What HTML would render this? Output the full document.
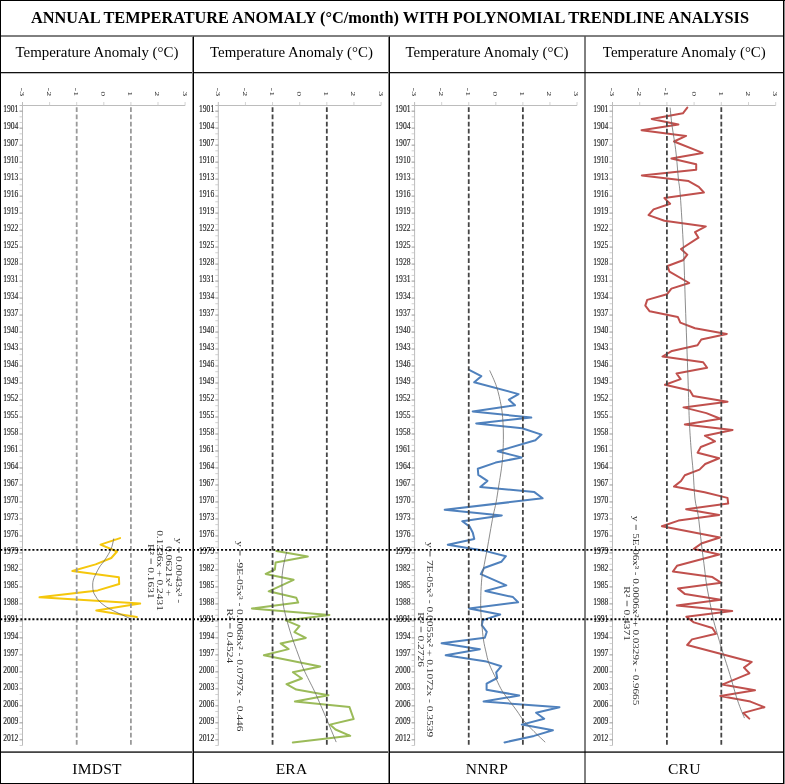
<!DOCTYPE html><html><head><meta charset="utf-8"><title>Annual Temperature Anomaly</title><style>html,body{margin:0;padding:0;background:#fff}svg{display:block}</style></head><body>
<svg width="785" height="784" viewBox="0 0 785 784">
<rect width="785" height="784" fill="#fff"/>
<g font-family="'Liberation Serif', serif"><path d="M19.50 105.5 H185.10 M22.5 102.0 V745.5" stroke="#bcbcbc" stroke-width="1" fill="none"/><path d="M49.60 102.0 V105.5M76.70 102.0 V105.5M103.80 102.0 V105.5M130.90 102.0 V105.5M158.00 102.0 V105.5M185.10 102.0 V105.5" stroke="#c8c8c8" stroke-width="0.8" fill="none"/><path d="M19.5 116.83 H22.5M19.5 122.49 H22.5M19.5 133.82 H22.5M19.5 139.48 H22.5M19.5 150.81 H22.5M19.5 156.47 H22.5M19.5 167.80 H22.5M19.5 173.46 H22.5M19.5 184.79 H22.5M19.5 190.46 H22.5M19.5 201.78 H22.5M19.5 207.45 H22.5M19.5 218.77 H22.5M19.5 224.44 H22.5M19.5 235.77 H22.5M19.5 241.43 H22.5M19.5 252.76 H22.5M19.5 258.42 H22.5M19.5 269.75 H22.5M19.5 275.41 H22.5M19.5 286.74 H22.5M19.5 292.40 H22.5M19.5 303.73 H22.5M19.5 309.39 H22.5M19.5 320.72 H22.5M19.5 326.38 H22.5M19.5 337.71 H22.5M19.5 343.38 H22.5M19.5 354.70 H22.5M19.5 360.37 H22.5M19.5 371.69 H22.5M19.5 377.36 H22.5M19.5 388.69 H22.5M19.5 394.35 H22.5M19.5 405.68 H22.5M19.5 411.34 H22.5M19.5 422.67 H22.5M19.5 428.33 H22.5M19.5 439.66 H22.5M19.5 445.32 H22.5M19.5 456.65 H22.5M19.5 462.31 H22.5M19.5 473.64 H22.5M19.5 479.31 H22.5M19.5 490.63 H22.5M19.5 496.30 H22.5M19.5 507.62 H22.5M19.5 513.29 H22.5M19.5 524.62 H22.5M19.5 530.28 H22.5M19.5 541.61 H22.5M19.5 547.27 H22.5M19.5 558.60 H22.5M19.5 564.26 H22.5M19.5 575.59 H22.5M19.5 581.25 H22.5M19.5 592.58 H22.5M19.5 598.24 H22.5M19.5 609.57 H22.5M19.5 615.23 H22.5M19.5 626.56 H22.5M19.5 632.23 H22.5M19.5 643.55 H22.5M19.5 649.22 H22.5M19.5 660.54 H22.5M19.5 666.21 H22.5M19.5 677.54 H22.5M19.5 683.20 H22.5M19.5 694.53 H22.5M19.5 700.19 H22.5M19.5 711.52 H22.5M19.5 717.18 H22.5M19.5 728.51 H22.5M19.5 734.17 H22.5M19.5 745.50 H22.5" stroke="#c4c4c4" stroke-width="0.8" fill="none"/><path d="M19.5 111.16 H22.5M19.5 128.15 H22.5M19.5 145.15 H22.5M19.5 162.14 H22.5M19.5 179.13 H22.5M19.5 196.12 H22.5M19.5 213.11 H22.5M19.5 230.10 H22.5M19.5 247.09 H22.5M19.5 264.08 H22.5M19.5 281.08 H22.5M19.5 298.07 H22.5M19.5 315.06 H22.5M19.5 332.05 H22.5M19.5 349.04 H22.5M19.5 366.03 H22.5M19.5 383.02 H22.5M19.5 400.01 H22.5M19.5 417.00 H22.5M19.5 434.00 H22.5M19.5 450.99 H22.5M19.5 467.98 H22.5M19.5 484.97 H22.5M19.5 501.96 H22.5M19.5 518.95 H22.5M19.5 535.94 H22.5M19.5 552.93 H22.5M19.5 569.92 H22.5M19.5 586.92 H22.5M19.5 603.91 H22.5M19.5 620.90 H22.5M19.5 637.89 H22.5M19.5 654.88 H22.5M19.5 671.87 H22.5M19.5 688.86 H22.5M19.5 705.85 H22.5M19.5 722.85 H22.5M19.5 739.84 H22.5" stroke="#8a8a8a" stroke-width="0.9" fill="none"/><text transform="translate(19.95 96.2) rotate(90) scale(1 0.68)" text-anchor="end" font-size="10" fill="#111">-3</text><text transform="translate(47.05 96.2) rotate(90) scale(1 0.68)" text-anchor="end" font-size="10" fill="#111">-2</text><text transform="translate(74.15 96.2) rotate(90) scale(1 0.68)" text-anchor="end" font-size="10" fill="#111">-1</text><text transform="translate(101.25 96.2) rotate(90) scale(1 0.68)" text-anchor="end" font-size="10" fill="#111">0</text><text transform="translate(128.35 96.2) rotate(90) scale(1 0.68)" text-anchor="end" font-size="10" fill="#111">1</text><text transform="translate(155.45 96.2) rotate(90) scale(1 0.68)" text-anchor="end" font-size="10" fill="#111">2</text><text transform="translate(182.55 96.2) rotate(90) scale(1 0.68)" text-anchor="end" font-size="10" fill="#111">3</text><text transform="translate(18.40 112.03) scale(0.76 1)" text-anchor="end" font-size="10" fill="#222" stroke="#222" stroke-width="0.15">1901</text><text transform="translate(18.40 129.02) scale(0.76 1)" text-anchor="end" font-size="10" fill="#222" stroke="#222" stroke-width="0.15">1904</text><text transform="translate(18.40 146.01) scale(0.76 1)" text-anchor="end" font-size="10" fill="#222" stroke="#222" stroke-width="0.15">1907</text><text transform="translate(18.40 163.01) scale(0.76 1)" text-anchor="end" font-size="10" fill="#222" stroke="#222" stroke-width="0.15">1910</text><text transform="translate(18.40 180.00) scale(0.76 1)" text-anchor="end" font-size="10" fill="#222" stroke="#222" stroke-width="0.15">1913</text><text transform="translate(18.40 196.99) scale(0.76 1)" text-anchor="end" font-size="10" fill="#222" stroke="#222" stroke-width="0.15">1916</text><text transform="translate(18.40 213.98) scale(0.76 1)" text-anchor="end" font-size="10" fill="#222" stroke="#222" stroke-width="0.15">1919</text><text transform="translate(18.40 230.97) scale(0.76 1)" text-anchor="end" font-size="10" fill="#222" stroke="#222" stroke-width="0.15">1922</text><text transform="translate(18.40 247.96) scale(0.76 1)" text-anchor="end" font-size="10" fill="#222" stroke="#222" stroke-width="0.15">1925</text><text transform="translate(18.40 264.95) scale(0.76 1)" text-anchor="end" font-size="10" fill="#222" stroke="#222" stroke-width="0.15">1928</text><text transform="translate(18.40 281.94) scale(0.76 1)" text-anchor="end" font-size="10" fill="#222" stroke="#222" stroke-width="0.15">1931</text><text transform="translate(18.40 298.93) scale(0.76 1)" text-anchor="end" font-size="10" fill="#222" stroke="#222" stroke-width="0.15">1934</text><text transform="translate(18.40 315.93) scale(0.76 1)" text-anchor="end" font-size="10" fill="#222" stroke="#222" stroke-width="0.15">1937</text><text transform="translate(18.40 332.92) scale(0.76 1)" text-anchor="end" font-size="10" fill="#222" stroke="#222" stroke-width="0.15">1940</text><text transform="translate(18.40 349.91) scale(0.76 1)" text-anchor="end" font-size="10" fill="#222" stroke="#222" stroke-width="0.15">1943</text><text transform="translate(18.40 366.90) scale(0.76 1)" text-anchor="end" font-size="10" fill="#222" stroke="#222" stroke-width="0.15">1946</text><text transform="translate(18.40 383.89) scale(0.76 1)" text-anchor="end" font-size="10" fill="#222" stroke="#222" stroke-width="0.15">1949</text><text transform="translate(18.40 400.88) scale(0.76 1)" text-anchor="end" font-size="10" fill="#222" stroke="#222" stroke-width="0.15">1952</text><text transform="translate(18.40 417.87) scale(0.76 1)" text-anchor="end" font-size="10" fill="#222" stroke="#222" stroke-width="0.15">1955</text><text transform="translate(18.40 434.86) scale(0.76 1)" text-anchor="end" font-size="10" fill="#222" stroke="#222" stroke-width="0.15">1958</text><text transform="translate(18.40 451.85) scale(0.76 1)" text-anchor="end" font-size="10" fill="#222" stroke="#222" stroke-width="0.15">1961</text><text transform="translate(18.40 468.85) scale(0.76 1)" text-anchor="end" font-size="10" fill="#222" stroke="#222" stroke-width="0.15">1964</text><text transform="translate(18.40 485.84) scale(0.76 1)" text-anchor="end" font-size="10" fill="#222" stroke="#222" stroke-width="0.15">1967</text><text transform="translate(18.40 502.83) scale(0.76 1)" text-anchor="end" font-size="10" fill="#222" stroke="#222" stroke-width="0.15">1970</text><text transform="translate(18.40 519.82) scale(0.76 1)" text-anchor="end" font-size="10" fill="#222" stroke="#222" stroke-width="0.15">1973</text><text transform="translate(18.40 536.81) scale(0.76 1)" text-anchor="end" font-size="10" fill="#222" stroke="#222" stroke-width="0.15">1976</text><text transform="translate(18.40 553.80) scale(0.76 1)" text-anchor="end" font-size="10" fill="#222" stroke="#222" stroke-width="0.15">1979</text><text transform="translate(18.40 570.79) scale(0.76 1)" text-anchor="end" font-size="10" fill="#222" stroke="#222" stroke-width="0.15">1982</text><text transform="translate(18.40 587.78) scale(0.76 1)" text-anchor="end" font-size="10" fill="#222" stroke="#222" stroke-width="0.15">1985</text><text transform="translate(18.40 604.78) scale(0.76 1)" text-anchor="end" font-size="10" fill="#222" stroke="#222" stroke-width="0.15">1988</text><text transform="translate(18.40 621.77) scale(0.76 1)" text-anchor="end" font-size="10" fill="#222" stroke="#222" stroke-width="0.15">1991</text><text transform="translate(18.40 638.76) scale(0.76 1)" text-anchor="end" font-size="10" fill="#222" stroke="#222" stroke-width="0.15">1994</text><text transform="translate(18.40 655.75) scale(0.76 1)" text-anchor="end" font-size="10" fill="#222" stroke="#222" stroke-width="0.15">1997</text><text transform="translate(18.40 672.74) scale(0.76 1)" text-anchor="end" font-size="10" fill="#222" stroke="#222" stroke-width="0.15">2000</text><text transform="translate(18.40 689.73) scale(0.76 1)" text-anchor="end" font-size="10" fill="#222" stroke="#222" stroke-width="0.15">2003</text><text transform="translate(18.40 706.72) scale(0.76 1)" text-anchor="end" font-size="10" fill="#222" stroke="#222" stroke-width="0.15">2006</text><text transform="translate(18.40 723.71) scale(0.76 1)" text-anchor="end" font-size="10" fill="#222" stroke="#222" stroke-width="0.15">2009</text><text transform="translate(18.40 740.70) scale(0.76 1)" text-anchor="end" font-size="10" fill="#222" stroke="#222" stroke-width="0.15">2012</text></g>
<g font-family="'Liberation Serif', serif"><path d="M215.30 105.5 H381.08 M218.3 102.0 V745.5" stroke="#bcbcbc" stroke-width="1" fill="none"/><path d="M245.43 102.0 V105.5M272.56 102.0 V105.5M299.69 102.0 V105.5M326.82 102.0 V105.5M353.95 102.0 V105.5M381.08 102.0 V105.5" stroke="#c8c8c8" stroke-width="0.8" fill="none"/><path d="M215.3 116.83 H218.3M215.3 122.49 H218.3M215.3 133.82 H218.3M215.3 139.48 H218.3M215.3 150.81 H218.3M215.3 156.47 H218.3M215.3 167.80 H218.3M215.3 173.46 H218.3M215.3 184.79 H218.3M215.3 190.46 H218.3M215.3 201.78 H218.3M215.3 207.45 H218.3M215.3 218.77 H218.3M215.3 224.44 H218.3M215.3 235.77 H218.3M215.3 241.43 H218.3M215.3 252.76 H218.3M215.3 258.42 H218.3M215.3 269.75 H218.3M215.3 275.41 H218.3M215.3 286.74 H218.3M215.3 292.40 H218.3M215.3 303.73 H218.3M215.3 309.39 H218.3M215.3 320.72 H218.3M215.3 326.38 H218.3M215.3 337.71 H218.3M215.3 343.38 H218.3M215.3 354.70 H218.3M215.3 360.37 H218.3M215.3 371.69 H218.3M215.3 377.36 H218.3M215.3 388.69 H218.3M215.3 394.35 H218.3M215.3 405.68 H218.3M215.3 411.34 H218.3M215.3 422.67 H218.3M215.3 428.33 H218.3M215.3 439.66 H218.3M215.3 445.32 H218.3M215.3 456.65 H218.3M215.3 462.31 H218.3M215.3 473.64 H218.3M215.3 479.31 H218.3M215.3 490.63 H218.3M215.3 496.30 H218.3M215.3 507.62 H218.3M215.3 513.29 H218.3M215.3 524.62 H218.3M215.3 530.28 H218.3M215.3 541.61 H218.3M215.3 547.27 H218.3M215.3 558.60 H218.3M215.3 564.26 H218.3M215.3 575.59 H218.3M215.3 581.25 H218.3M215.3 592.58 H218.3M215.3 598.24 H218.3M215.3 609.57 H218.3M215.3 615.23 H218.3M215.3 626.56 H218.3M215.3 632.23 H218.3M215.3 643.55 H218.3M215.3 649.22 H218.3M215.3 660.54 H218.3M215.3 666.21 H218.3M215.3 677.54 H218.3M215.3 683.20 H218.3M215.3 694.53 H218.3M215.3 700.19 H218.3M215.3 711.52 H218.3M215.3 717.18 H218.3M215.3 728.51 H218.3M215.3 734.17 H218.3M215.3 745.50 H218.3" stroke="#c4c4c4" stroke-width="0.8" fill="none"/><path d="M215.3 111.16 H218.3M215.3 128.15 H218.3M215.3 145.15 H218.3M215.3 162.14 H218.3M215.3 179.13 H218.3M215.3 196.12 H218.3M215.3 213.11 H218.3M215.3 230.10 H218.3M215.3 247.09 H218.3M215.3 264.08 H218.3M215.3 281.08 H218.3M215.3 298.07 H218.3M215.3 315.06 H218.3M215.3 332.05 H218.3M215.3 349.04 H218.3M215.3 366.03 H218.3M215.3 383.02 H218.3M215.3 400.01 H218.3M215.3 417.00 H218.3M215.3 434.00 H218.3M215.3 450.99 H218.3M215.3 467.98 H218.3M215.3 484.97 H218.3M215.3 501.96 H218.3M215.3 518.95 H218.3M215.3 535.94 H218.3M215.3 552.93 H218.3M215.3 569.92 H218.3M215.3 586.92 H218.3M215.3 603.91 H218.3M215.3 620.90 H218.3M215.3 637.89 H218.3M215.3 654.88 H218.3M215.3 671.87 H218.3M215.3 688.86 H218.3M215.3 705.85 H218.3M215.3 722.85 H218.3M215.3 739.84 H218.3" stroke="#8a8a8a" stroke-width="0.9" fill="none"/><text transform="translate(215.75 96.2) rotate(90) scale(1 0.68)" text-anchor="end" font-size="10" fill="#111">-3</text><text transform="translate(242.88 96.2) rotate(90) scale(1 0.68)" text-anchor="end" font-size="10" fill="#111">-2</text><text transform="translate(270.01 96.2) rotate(90) scale(1 0.68)" text-anchor="end" font-size="10" fill="#111">-1</text><text transform="translate(297.14 96.2) rotate(90) scale(1 0.68)" text-anchor="end" font-size="10" fill="#111">0</text><text transform="translate(324.27 96.2) rotate(90) scale(1 0.68)" text-anchor="end" font-size="10" fill="#111">1</text><text transform="translate(351.40 96.2) rotate(90) scale(1 0.68)" text-anchor="end" font-size="10" fill="#111">2</text><text transform="translate(378.53 96.2) rotate(90) scale(1 0.68)" text-anchor="end" font-size="10" fill="#111">3</text><text transform="translate(214.20 112.03) scale(0.76 1)" text-anchor="end" font-size="10" fill="#222" stroke="#222" stroke-width="0.15">1901</text><text transform="translate(214.20 129.02) scale(0.76 1)" text-anchor="end" font-size="10" fill="#222" stroke="#222" stroke-width="0.15">1904</text><text transform="translate(214.20 146.01) scale(0.76 1)" text-anchor="end" font-size="10" fill="#222" stroke="#222" stroke-width="0.15">1907</text><text transform="translate(214.20 163.01) scale(0.76 1)" text-anchor="end" font-size="10" fill="#222" stroke="#222" stroke-width="0.15">1910</text><text transform="translate(214.20 180.00) scale(0.76 1)" text-anchor="end" font-size="10" fill="#222" stroke="#222" stroke-width="0.15">1913</text><text transform="translate(214.20 196.99) scale(0.76 1)" text-anchor="end" font-size="10" fill="#222" stroke="#222" stroke-width="0.15">1916</text><text transform="translate(214.20 213.98) scale(0.76 1)" text-anchor="end" font-size="10" fill="#222" stroke="#222" stroke-width="0.15">1919</text><text transform="translate(214.20 230.97) scale(0.76 1)" text-anchor="end" font-size="10" fill="#222" stroke="#222" stroke-width="0.15">1922</text><text transform="translate(214.20 247.96) scale(0.76 1)" text-anchor="end" font-size="10" fill="#222" stroke="#222" stroke-width="0.15">1925</text><text transform="translate(214.20 264.95) scale(0.76 1)" text-anchor="end" font-size="10" fill="#222" stroke="#222" stroke-width="0.15">1928</text><text transform="translate(214.20 281.94) scale(0.76 1)" text-anchor="end" font-size="10" fill="#222" stroke="#222" stroke-width="0.15">1931</text><text transform="translate(214.20 298.93) scale(0.76 1)" text-anchor="end" font-size="10" fill="#222" stroke="#222" stroke-width="0.15">1934</text><text transform="translate(214.20 315.93) scale(0.76 1)" text-anchor="end" font-size="10" fill="#222" stroke="#222" stroke-width="0.15">1937</text><text transform="translate(214.20 332.92) scale(0.76 1)" text-anchor="end" font-size="10" fill="#222" stroke="#222" stroke-width="0.15">1940</text><text transform="translate(214.20 349.91) scale(0.76 1)" text-anchor="end" font-size="10" fill="#222" stroke="#222" stroke-width="0.15">1943</text><text transform="translate(214.20 366.90) scale(0.76 1)" text-anchor="end" font-size="10" fill="#222" stroke="#222" stroke-width="0.15">1946</text><text transform="translate(214.20 383.89) scale(0.76 1)" text-anchor="end" font-size="10" fill="#222" stroke="#222" stroke-width="0.15">1949</text><text transform="translate(214.20 400.88) scale(0.76 1)" text-anchor="end" font-size="10" fill="#222" stroke="#222" stroke-width="0.15">1952</text><text transform="translate(214.20 417.87) scale(0.76 1)" text-anchor="end" font-size="10" fill="#222" stroke="#222" stroke-width="0.15">1955</text><text transform="translate(214.20 434.86) scale(0.76 1)" text-anchor="end" font-size="10" fill="#222" stroke="#222" stroke-width="0.15">1958</text><text transform="translate(214.20 451.85) scale(0.76 1)" text-anchor="end" font-size="10" fill="#222" stroke="#222" stroke-width="0.15">1961</text><text transform="translate(214.20 468.85) scale(0.76 1)" text-anchor="end" font-size="10" fill="#222" stroke="#222" stroke-width="0.15">1964</text><text transform="translate(214.20 485.84) scale(0.76 1)" text-anchor="end" font-size="10" fill="#222" stroke="#222" stroke-width="0.15">1967</text><text transform="translate(214.20 502.83) scale(0.76 1)" text-anchor="end" font-size="10" fill="#222" stroke="#222" stroke-width="0.15">1970</text><text transform="translate(214.20 519.82) scale(0.76 1)" text-anchor="end" font-size="10" fill="#222" stroke="#222" stroke-width="0.15">1973</text><text transform="translate(214.20 536.81) scale(0.76 1)" text-anchor="end" font-size="10" fill="#222" stroke="#222" stroke-width="0.15">1976</text><text transform="translate(214.20 553.80) scale(0.76 1)" text-anchor="end" font-size="10" fill="#222" stroke="#222" stroke-width="0.15">1979</text><text transform="translate(214.20 570.79) scale(0.76 1)" text-anchor="end" font-size="10" fill="#222" stroke="#222" stroke-width="0.15">1982</text><text transform="translate(214.20 587.78) scale(0.76 1)" text-anchor="end" font-size="10" fill="#222" stroke="#222" stroke-width="0.15">1985</text><text transform="translate(214.20 604.78) scale(0.76 1)" text-anchor="end" font-size="10" fill="#222" stroke="#222" stroke-width="0.15">1988</text><text transform="translate(214.20 621.77) scale(0.76 1)" text-anchor="end" font-size="10" fill="#222" stroke="#222" stroke-width="0.15">1991</text><text transform="translate(214.20 638.76) scale(0.76 1)" text-anchor="end" font-size="10" fill="#222" stroke="#222" stroke-width="0.15">1994</text><text transform="translate(214.20 655.75) scale(0.76 1)" text-anchor="end" font-size="10" fill="#222" stroke="#222" stroke-width="0.15">1997</text><text transform="translate(214.20 672.74) scale(0.76 1)" text-anchor="end" font-size="10" fill="#222" stroke="#222" stroke-width="0.15">2000</text><text transform="translate(214.20 689.73) scale(0.76 1)" text-anchor="end" font-size="10" fill="#222" stroke="#222" stroke-width="0.15">2003</text><text transform="translate(214.20 706.72) scale(0.76 1)" text-anchor="end" font-size="10" fill="#222" stroke="#222" stroke-width="0.15">2006</text><text transform="translate(214.20 723.71) scale(0.76 1)" text-anchor="end" font-size="10" fill="#222" stroke="#222" stroke-width="0.15">2009</text><text transform="translate(214.20 740.70) scale(0.76 1)" text-anchor="end" font-size="10" fill="#222" stroke="#222" stroke-width="0.15">2012</text></g>
<g font-family="'Liberation Serif', serif"><path d="M411.60 105.5 H577.02 M414.6 102.0 V745.5" stroke="#bcbcbc" stroke-width="1" fill="none"/><path d="M441.67 102.0 V105.5M468.74 102.0 V105.5M495.81 102.0 V105.5M522.88 102.0 V105.5M549.95 102.0 V105.5M577.02 102.0 V105.5" stroke="#c8c8c8" stroke-width="0.8" fill="none"/><path d="M411.6 116.83 H414.6M411.6 122.49 H414.6M411.6 133.82 H414.6M411.6 139.48 H414.6M411.6 150.81 H414.6M411.6 156.47 H414.6M411.6 167.80 H414.6M411.6 173.46 H414.6M411.6 184.79 H414.6M411.6 190.46 H414.6M411.6 201.78 H414.6M411.6 207.45 H414.6M411.6 218.77 H414.6M411.6 224.44 H414.6M411.6 235.77 H414.6M411.6 241.43 H414.6M411.6 252.76 H414.6M411.6 258.42 H414.6M411.6 269.75 H414.6M411.6 275.41 H414.6M411.6 286.74 H414.6M411.6 292.40 H414.6M411.6 303.73 H414.6M411.6 309.39 H414.6M411.6 320.72 H414.6M411.6 326.38 H414.6M411.6 337.71 H414.6M411.6 343.38 H414.6M411.6 354.70 H414.6M411.6 360.37 H414.6M411.6 371.69 H414.6M411.6 377.36 H414.6M411.6 388.69 H414.6M411.6 394.35 H414.6M411.6 405.68 H414.6M411.6 411.34 H414.6M411.6 422.67 H414.6M411.6 428.33 H414.6M411.6 439.66 H414.6M411.6 445.32 H414.6M411.6 456.65 H414.6M411.6 462.31 H414.6M411.6 473.64 H414.6M411.6 479.31 H414.6M411.6 490.63 H414.6M411.6 496.30 H414.6M411.6 507.62 H414.6M411.6 513.29 H414.6M411.6 524.62 H414.6M411.6 530.28 H414.6M411.6 541.61 H414.6M411.6 547.27 H414.6M411.6 558.60 H414.6M411.6 564.26 H414.6M411.6 575.59 H414.6M411.6 581.25 H414.6M411.6 592.58 H414.6M411.6 598.24 H414.6M411.6 609.57 H414.6M411.6 615.23 H414.6M411.6 626.56 H414.6M411.6 632.23 H414.6M411.6 643.55 H414.6M411.6 649.22 H414.6M411.6 660.54 H414.6M411.6 666.21 H414.6M411.6 677.54 H414.6M411.6 683.20 H414.6M411.6 694.53 H414.6M411.6 700.19 H414.6M411.6 711.52 H414.6M411.6 717.18 H414.6M411.6 728.51 H414.6M411.6 734.17 H414.6M411.6 745.50 H414.6" stroke="#c4c4c4" stroke-width="0.8" fill="none"/><path d="M411.6 111.16 H414.6M411.6 128.15 H414.6M411.6 145.15 H414.6M411.6 162.14 H414.6M411.6 179.13 H414.6M411.6 196.12 H414.6M411.6 213.11 H414.6M411.6 230.10 H414.6M411.6 247.09 H414.6M411.6 264.08 H414.6M411.6 281.08 H414.6M411.6 298.07 H414.6M411.6 315.06 H414.6M411.6 332.05 H414.6M411.6 349.04 H414.6M411.6 366.03 H414.6M411.6 383.02 H414.6M411.6 400.01 H414.6M411.6 417.00 H414.6M411.6 434.00 H414.6M411.6 450.99 H414.6M411.6 467.98 H414.6M411.6 484.97 H414.6M411.6 501.96 H414.6M411.6 518.95 H414.6M411.6 535.94 H414.6M411.6 552.93 H414.6M411.6 569.92 H414.6M411.6 586.92 H414.6M411.6 603.91 H414.6M411.6 620.90 H414.6M411.6 637.89 H414.6M411.6 654.88 H414.6M411.6 671.87 H414.6M411.6 688.86 H414.6M411.6 705.85 H414.6M411.6 722.85 H414.6M411.6 739.84 H414.6" stroke="#8a8a8a" stroke-width="0.9" fill="none"/><text transform="translate(412.05 96.2) rotate(90) scale(1 0.68)" text-anchor="end" font-size="10" fill="#111">-3</text><text transform="translate(439.12 96.2) rotate(90) scale(1 0.68)" text-anchor="end" font-size="10" fill="#111">-2</text><text transform="translate(466.19 96.2) rotate(90) scale(1 0.68)" text-anchor="end" font-size="10" fill="#111">-1</text><text transform="translate(493.26 96.2) rotate(90) scale(1 0.68)" text-anchor="end" font-size="10" fill="#111">0</text><text transform="translate(520.33 96.2) rotate(90) scale(1 0.68)" text-anchor="end" font-size="10" fill="#111">1</text><text transform="translate(547.40 96.2) rotate(90) scale(1 0.68)" text-anchor="end" font-size="10" fill="#111">2</text><text transform="translate(574.47 96.2) rotate(90) scale(1 0.68)" text-anchor="end" font-size="10" fill="#111">3</text><text transform="translate(410.50 112.03) scale(0.76 1)" text-anchor="end" font-size="10" fill="#222" stroke="#222" stroke-width="0.15">1901</text><text transform="translate(410.50 129.02) scale(0.76 1)" text-anchor="end" font-size="10" fill="#222" stroke="#222" stroke-width="0.15">1904</text><text transform="translate(410.50 146.01) scale(0.76 1)" text-anchor="end" font-size="10" fill="#222" stroke="#222" stroke-width="0.15">1907</text><text transform="translate(410.50 163.01) scale(0.76 1)" text-anchor="end" font-size="10" fill="#222" stroke="#222" stroke-width="0.15">1910</text><text transform="translate(410.50 180.00) scale(0.76 1)" text-anchor="end" font-size="10" fill="#222" stroke="#222" stroke-width="0.15">1913</text><text transform="translate(410.50 196.99) scale(0.76 1)" text-anchor="end" font-size="10" fill="#222" stroke="#222" stroke-width="0.15">1916</text><text transform="translate(410.50 213.98) scale(0.76 1)" text-anchor="end" font-size="10" fill="#222" stroke="#222" stroke-width="0.15">1919</text><text transform="translate(410.50 230.97) scale(0.76 1)" text-anchor="end" font-size="10" fill="#222" stroke="#222" stroke-width="0.15">1922</text><text transform="translate(410.50 247.96) scale(0.76 1)" text-anchor="end" font-size="10" fill="#222" stroke="#222" stroke-width="0.15">1925</text><text transform="translate(410.50 264.95) scale(0.76 1)" text-anchor="end" font-size="10" fill="#222" stroke="#222" stroke-width="0.15">1928</text><text transform="translate(410.50 281.94) scale(0.76 1)" text-anchor="end" font-size="10" fill="#222" stroke="#222" stroke-width="0.15">1931</text><text transform="translate(410.50 298.93) scale(0.76 1)" text-anchor="end" font-size="10" fill="#222" stroke="#222" stroke-width="0.15">1934</text><text transform="translate(410.50 315.93) scale(0.76 1)" text-anchor="end" font-size="10" fill="#222" stroke="#222" stroke-width="0.15">1937</text><text transform="translate(410.50 332.92) scale(0.76 1)" text-anchor="end" font-size="10" fill="#222" stroke="#222" stroke-width="0.15">1940</text><text transform="translate(410.50 349.91) scale(0.76 1)" text-anchor="end" font-size="10" fill="#222" stroke="#222" stroke-width="0.15">1943</text><text transform="translate(410.50 366.90) scale(0.76 1)" text-anchor="end" font-size="10" fill="#222" stroke="#222" stroke-width="0.15">1946</text><text transform="translate(410.50 383.89) scale(0.76 1)" text-anchor="end" font-size="10" fill="#222" stroke="#222" stroke-width="0.15">1949</text><text transform="translate(410.50 400.88) scale(0.76 1)" text-anchor="end" font-size="10" fill="#222" stroke="#222" stroke-width="0.15">1952</text><text transform="translate(410.50 417.87) scale(0.76 1)" text-anchor="end" font-size="10" fill="#222" stroke="#222" stroke-width="0.15">1955</text><text transform="translate(410.50 434.86) scale(0.76 1)" text-anchor="end" font-size="10" fill="#222" stroke="#222" stroke-width="0.15">1958</text><text transform="translate(410.50 451.85) scale(0.76 1)" text-anchor="end" font-size="10" fill="#222" stroke="#222" stroke-width="0.15">1961</text><text transform="translate(410.50 468.85) scale(0.76 1)" text-anchor="end" font-size="10" fill="#222" stroke="#222" stroke-width="0.15">1964</text><text transform="translate(410.50 485.84) scale(0.76 1)" text-anchor="end" font-size="10" fill="#222" stroke="#222" stroke-width="0.15">1967</text><text transform="translate(410.50 502.83) scale(0.76 1)" text-anchor="end" font-size="10" fill="#222" stroke="#222" stroke-width="0.15">1970</text><text transform="translate(410.50 519.82) scale(0.76 1)" text-anchor="end" font-size="10" fill="#222" stroke="#222" stroke-width="0.15">1973</text><text transform="translate(410.50 536.81) scale(0.76 1)" text-anchor="end" font-size="10" fill="#222" stroke="#222" stroke-width="0.15">1976</text><text transform="translate(410.50 553.80) scale(0.76 1)" text-anchor="end" font-size="10" fill="#222" stroke="#222" stroke-width="0.15">1979</text><text transform="translate(410.50 570.79) scale(0.76 1)" text-anchor="end" font-size="10" fill="#222" stroke="#222" stroke-width="0.15">1982</text><text transform="translate(410.50 587.78) scale(0.76 1)" text-anchor="end" font-size="10" fill="#222" stroke="#222" stroke-width="0.15">1985</text><text transform="translate(410.50 604.78) scale(0.76 1)" text-anchor="end" font-size="10" fill="#222" stroke="#222" stroke-width="0.15">1988</text><text transform="translate(410.50 621.77) scale(0.76 1)" text-anchor="end" font-size="10" fill="#222" stroke="#222" stroke-width="0.15">1991</text><text transform="translate(410.50 638.76) scale(0.76 1)" text-anchor="end" font-size="10" fill="#222" stroke="#222" stroke-width="0.15">1994</text><text transform="translate(410.50 655.75) scale(0.76 1)" text-anchor="end" font-size="10" fill="#222" stroke="#222" stroke-width="0.15">1997</text><text transform="translate(410.50 672.74) scale(0.76 1)" text-anchor="end" font-size="10" fill="#222" stroke="#222" stroke-width="0.15">2000</text><text transform="translate(410.50 689.73) scale(0.76 1)" text-anchor="end" font-size="10" fill="#222" stroke="#222" stroke-width="0.15">2003</text><text transform="translate(410.50 706.72) scale(0.76 1)" text-anchor="end" font-size="10" fill="#222" stroke="#222" stroke-width="0.15">2006</text><text transform="translate(410.50 723.71) scale(0.76 1)" text-anchor="end" font-size="10" fill="#222" stroke="#222" stroke-width="0.15">2009</text><text transform="translate(410.50 740.70) scale(0.76 1)" text-anchor="end" font-size="10" fill="#222" stroke="#222" stroke-width="0.15">2012</text></g>
<g font-family="'Liberation Serif', serif"><path d="M609.50 105.5 H775.70 M612.5 102.0 V745.5" stroke="#bcbcbc" stroke-width="1" fill="none"/><path d="M639.70 102.0 V105.5M666.90 102.0 V105.5M694.10 102.0 V105.5M721.30 102.0 V105.5M748.50 102.0 V105.5M775.70 102.0 V105.5" stroke="#c8c8c8" stroke-width="0.8" fill="none"/><path d="M609.5 116.83 H612.5M609.5 122.49 H612.5M609.5 133.82 H612.5M609.5 139.48 H612.5M609.5 150.81 H612.5M609.5 156.47 H612.5M609.5 167.80 H612.5M609.5 173.46 H612.5M609.5 184.79 H612.5M609.5 190.46 H612.5M609.5 201.78 H612.5M609.5 207.45 H612.5M609.5 218.77 H612.5M609.5 224.44 H612.5M609.5 235.77 H612.5M609.5 241.43 H612.5M609.5 252.76 H612.5M609.5 258.42 H612.5M609.5 269.75 H612.5M609.5 275.41 H612.5M609.5 286.74 H612.5M609.5 292.40 H612.5M609.5 303.73 H612.5M609.5 309.39 H612.5M609.5 320.72 H612.5M609.5 326.38 H612.5M609.5 337.71 H612.5M609.5 343.38 H612.5M609.5 354.70 H612.5M609.5 360.37 H612.5M609.5 371.69 H612.5M609.5 377.36 H612.5M609.5 388.69 H612.5M609.5 394.35 H612.5M609.5 405.68 H612.5M609.5 411.34 H612.5M609.5 422.67 H612.5M609.5 428.33 H612.5M609.5 439.66 H612.5M609.5 445.32 H612.5M609.5 456.65 H612.5M609.5 462.31 H612.5M609.5 473.64 H612.5M609.5 479.31 H612.5M609.5 490.63 H612.5M609.5 496.30 H612.5M609.5 507.62 H612.5M609.5 513.29 H612.5M609.5 524.62 H612.5M609.5 530.28 H612.5M609.5 541.61 H612.5M609.5 547.27 H612.5M609.5 558.60 H612.5M609.5 564.26 H612.5M609.5 575.59 H612.5M609.5 581.25 H612.5M609.5 592.58 H612.5M609.5 598.24 H612.5M609.5 609.57 H612.5M609.5 615.23 H612.5M609.5 626.56 H612.5M609.5 632.23 H612.5M609.5 643.55 H612.5M609.5 649.22 H612.5M609.5 660.54 H612.5M609.5 666.21 H612.5M609.5 677.54 H612.5M609.5 683.20 H612.5M609.5 694.53 H612.5M609.5 700.19 H612.5M609.5 711.52 H612.5M609.5 717.18 H612.5M609.5 728.51 H612.5M609.5 734.17 H612.5M609.5 745.50 H612.5" stroke="#c4c4c4" stroke-width="0.8" fill="none"/><path d="M609.5 111.16 H612.5M609.5 128.15 H612.5M609.5 145.15 H612.5M609.5 162.14 H612.5M609.5 179.13 H612.5M609.5 196.12 H612.5M609.5 213.11 H612.5M609.5 230.10 H612.5M609.5 247.09 H612.5M609.5 264.08 H612.5M609.5 281.08 H612.5M609.5 298.07 H612.5M609.5 315.06 H612.5M609.5 332.05 H612.5M609.5 349.04 H612.5M609.5 366.03 H612.5M609.5 383.02 H612.5M609.5 400.01 H612.5M609.5 417.00 H612.5M609.5 434.00 H612.5M609.5 450.99 H612.5M609.5 467.98 H612.5M609.5 484.97 H612.5M609.5 501.96 H612.5M609.5 518.95 H612.5M609.5 535.94 H612.5M609.5 552.93 H612.5M609.5 569.92 H612.5M609.5 586.92 H612.5M609.5 603.91 H612.5M609.5 620.90 H612.5M609.5 637.89 H612.5M609.5 654.88 H612.5M609.5 671.87 H612.5M609.5 688.86 H612.5M609.5 705.85 H612.5M609.5 722.85 H612.5M609.5 739.84 H612.5" stroke="#8a8a8a" stroke-width="0.9" fill="none"/><text transform="translate(609.95 96.2) rotate(90) scale(1 0.68)" text-anchor="end" font-size="10" fill="#111">-3</text><text transform="translate(637.15 96.2) rotate(90) scale(1 0.68)" text-anchor="end" font-size="10" fill="#111">-2</text><text transform="translate(664.35 96.2) rotate(90) scale(1 0.68)" text-anchor="end" font-size="10" fill="#111">-1</text><text transform="translate(691.55 96.2) rotate(90) scale(1 0.68)" text-anchor="end" font-size="10" fill="#111">0</text><text transform="translate(718.75 96.2) rotate(90) scale(1 0.68)" text-anchor="end" font-size="10" fill="#111">1</text><text transform="translate(745.95 96.2) rotate(90) scale(1 0.68)" text-anchor="end" font-size="10" fill="#111">2</text><text transform="translate(773.15 96.2) rotate(90) scale(1 0.68)" text-anchor="end" font-size="10" fill="#111">3</text><text transform="translate(608.40 112.03) scale(0.76 1)" text-anchor="end" font-size="10" fill="#222" stroke="#222" stroke-width="0.15">1901</text><text transform="translate(608.40 129.02) scale(0.76 1)" text-anchor="end" font-size="10" fill="#222" stroke="#222" stroke-width="0.15">1904</text><text transform="translate(608.40 146.01) scale(0.76 1)" text-anchor="end" font-size="10" fill="#222" stroke="#222" stroke-width="0.15">1907</text><text transform="translate(608.40 163.01) scale(0.76 1)" text-anchor="end" font-size="10" fill="#222" stroke="#222" stroke-width="0.15">1910</text><text transform="translate(608.40 180.00) scale(0.76 1)" text-anchor="end" font-size="10" fill="#222" stroke="#222" stroke-width="0.15">1913</text><text transform="translate(608.40 196.99) scale(0.76 1)" text-anchor="end" font-size="10" fill="#222" stroke="#222" stroke-width="0.15">1916</text><text transform="translate(608.40 213.98) scale(0.76 1)" text-anchor="end" font-size="10" fill="#222" stroke="#222" stroke-width="0.15">1919</text><text transform="translate(608.40 230.97) scale(0.76 1)" text-anchor="end" font-size="10" fill="#222" stroke="#222" stroke-width="0.15">1922</text><text transform="translate(608.40 247.96) scale(0.76 1)" text-anchor="end" font-size="10" fill="#222" stroke="#222" stroke-width="0.15">1925</text><text transform="translate(608.40 264.95) scale(0.76 1)" text-anchor="end" font-size="10" fill="#222" stroke="#222" stroke-width="0.15">1928</text><text transform="translate(608.40 281.94) scale(0.76 1)" text-anchor="end" font-size="10" fill="#222" stroke="#222" stroke-width="0.15">1931</text><text transform="translate(608.40 298.93) scale(0.76 1)" text-anchor="end" font-size="10" fill="#222" stroke="#222" stroke-width="0.15">1934</text><text transform="translate(608.40 315.93) scale(0.76 1)" text-anchor="end" font-size="10" fill="#222" stroke="#222" stroke-width="0.15">1937</text><text transform="translate(608.40 332.92) scale(0.76 1)" text-anchor="end" font-size="10" fill="#222" stroke="#222" stroke-width="0.15">1940</text><text transform="translate(608.40 349.91) scale(0.76 1)" text-anchor="end" font-size="10" fill="#222" stroke="#222" stroke-width="0.15">1943</text><text transform="translate(608.40 366.90) scale(0.76 1)" text-anchor="end" font-size="10" fill="#222" stroke="#222" stroke-width="0.15">1946</text><text transform="translate(608.40 383.89) scale(0.76 1)" text-anchor="end" font-size="10" fill="#222" stroke="#222" stroke-width="0.15">1949</text><text transform="translate(608.40 400.88) scale(0.76 1)" text-anchor="end" font-size="10" fill="#222" stroke="#222" stroke-width="0.15">1952</text><text transform="translate(608.40 417.87) scale(0.76 1)" text-anchor="end" font-size="10" fill="#222" stroke="#222" stroke-width="0.15">1955</text><text transform="translate(608.40 434.86) scale(0.76 1)" text-anchor="end" font-size="10" fill="#222" stroke="#222" stroke-width="0.15">1958</text><text transform="translate(608.40 451.85) scale(0.76 1)" text-anchor="end" font-size="10" fill="#222" stroke="#222" stroke-width="0.15">1961</text><text transform="translate(608.40 468.85) scale(0.76 1)" text-anchor="end" font-size="10" fill="#222" stroke="#222" stroke-width="0.15">1964</text><text transform="translate(608.40 485.84) scale(0.76 1)" text-anchor="end" font-size="10" fill="#222" stroke="#222" stroke-width="0.15">1967</text><text transform="translate(608.40 502.83) scale(0.76 1)" text-anchor="end" font-size="10" fill="#222" stroke="#222" stroke-width="0.15">1970</text><text transform="translate(608.40 519.82) scale(0.76 1)" text-anchor="end" font-size="10" fill="#222" stroke="#222" stroke-width="0.15">1973</text><text transform="translate(608.40 536.81) scale(0.76 1)" text-anchor="end" font-size="10" fill="#222" stroke="#222" stroke-width="0.15">1976</text><text transform="translate(608.40 553.80) scale(0.76 1)" text-anchor="end" font-size="10" fill="#222" stroke="#222" stroke-width="0.15">1979</text><text transform="translate(608.40 570.79) scale(0.76 1)" text-anchor="end" font-size="10" fill="#222" stroke="#222" stroke-width="0.15">1982</text><text transform="translate(608.40 587.78) scale(0.76 1)" text-anchor="end" font-size="10" fill="#222" stroke="#222" stroke-width="0.15">1985</text><text transform="translate(608.40 604.78) scale(0.76 1)" text-anchor="end" font-size="10" fill="#222" stroke="#222" stroke-width="0.15">1988</text><text transform="translate(608.40 621.77) scale(0.76 1)" text-anchor="end" font-size="10" fill="#222" stroke="#222" stroke-width="0.15">1991</text><text transform="translate(608.40 638.76) scale(0.76 1)" text-anchor="end" font-size="10" fill="#222" stroke="#222" stroke-width="0.15">1994</text><text transform="translate(608.40 655.75) scale(0.76 1)" text-anchor="end" font-size="10" fill="#222" stroke="#222" stroke-width="0.15">1997</text><text transform="translate(608.40 672.74) scale(0.76 1)" text-anchor="end" font-size="10" fill="#222" stroke="#222" stroke-width="0.15">2000</text><text transform="translate(608.40 689.73) scale(0.76 1)" text-anchor="end" font-size="10" fill="#222" stroke="#222" stroke-width="0.15">2003</text><text transform="translate(608.40 706.72) scale(0.76 1)" text-anchor="end" font-size="10" fill="#222" stroke="#222" stroke-width="0.15">2006</text><text transform="translate(608.40 723.71) scale(0.76 1)" text-anchor="end" font-size="10" fill="#222" stroke="#222" stroke-width="0.15">2009</text><text transform="translate(608.40 740.70) scale(0.76 1)" text-anchor="end" font-size="10" fill="#222" stroke="#222" stroke-width="0.15">2012</text></g>
<path d="M120.1 538.1 L100.5 544.6 L117.0 551.5 L111.3 558.0 L95.6 564.4 L72.3 571.0 L118.9 577.2 L119.2 584.0 L97.8 590.4 L39.5 597.3 L140.2 603.6 L96.3 610.5 L136.8 617.1" stroke="#F5C70C" stroke-width="2" fill="none" stroke-linejoin="round" stroke-linecap="round"/>
<path d="M276.4 551.1 L307.8 556.5 L275.6 562.6 L274.9 569.5 L265.7 573.9 L293.6 579.8 L268.7 591.3 L296.3 597.8 L298.2 602.6 L251.9 608.6 L329.4 614.9 L285.8 620.4 L299.5 626.2 L294.4 632.1 L305.8 637.9 L280.6 643.4 L288.6 649.1 L263.9 655.3 L320.2 666.4 L292.9 672.2 L301.9 678.5 L286.5 684.2 L296.3 689.6 L328.5 695.2 L294.9 701.5 L349.5 707.1 L353.7 719.0 L329.9 724.6 L335.5 729.5 L350.2 735.8 L292.8 742.5" stroke="#9BBB59" stroke-width="2" fill="none" stroke-linejoin="round" stroke-linecap="round"/>
<path d="M469.6 370.1 L481.3 376.2 L474.2 382.3 L518.6 394.1 L508.9 399.7 L515.0 405.3 L472.7 411.4 L531.3 417.6 L476.2 423.4 L522.1 428.3 L541.5 434.6 L535.4 440.3 L497.7 451.3 L521.6 457.4 L495.6 462.6 L477.8 468.7 L478.3 474.8 L487.4 480.9 L480.3 487.0 L534.4 492.1 L542.6 498.3 L444.7 509.8 L501.8 515.4 L462.3 521.3 L469.7 526.6 L472.8 532.8 L474.3 538.9 L447.8 544.8 L483.0 550.4 L505.9 556.2 L501.3 561.8 L484.0 568.0 L480.8 574.2 L506.3 585.4 L485.4 591.0 L513.0 597.1 L518.1 602.2 L469.1 608.4 L500.2 614.5 L482.9 620.1 L481.8 625.2 L486.8 631.8 L484.8 637.7 L441.6 643.3 L479.9 649.2 L445.7 655.3 L486.5 661.6 L501.3 666.2 L496.2 672.3 L497.2 678.0 L486.6 683.6 L486.6 689.7 L519.2 695.5 L483.6 701.6 L559.5 707.3 L536.1 712.8 L544.2 718.7 L521.8 724.6 L552.9 730.2 L534.0 735.9 L504.5 742.4" stroke="#4F81BD" stroke-width="2" fill="none" stroke-linejoin="round" stroke-linecap="round"/>
<path d="M687.3 107.6 L682.9 113.3 L651.7 118.9 L678.4 124.6 L641.5 130.2 L686.1 135.9 L674.0 141.5 L702.6 152.9 L671.4 158.5 L696.2 164.2 L696.2 169.8 L641.8 175.5 L688.6 181.1 L698.8 186.8 L703.9 192.5 L664.4 198.1 L670.1 203.8 L653.6 209.4 L648.5 215.1 L664.4 220.7 L705.8 226.4 L695.0 232.1 L698.5 237.7 L681.0 249.0 L687.3 254.7 L682.9 260.3 L667.6 266.0 L669.5 271.7 L689.2 283.0 L671.4 288.6 L666.9 294.3 L647.2 299.9 L645.3 305.6 L649.7 311.3 L677.8 316.9 L680.3 322.6 L695.0 328.2 L726.8 333.9 L701.3 339.5 L697.5 345.2 L672.0 350.9 L662.5 356.5 L703.2 362.2 L707.1 367.8 L676.5 373.5 L680.6 379.1 L665.0 384.8 L689.9 390.5 L693.1 396.1 L727.5 401.8 L683.5 407.4 L706.4 413.1 L720.4 418.7 L684.8 424.4 L732.6 430.0 L704.9 435.7 L715.0 441.4 L700.8 447.0 L697.6 452.7 L719.2 458.3 L705.2 464.0 L699.5 469.6 L684.8 475.3 L681.0 481.0 L674.0 486.6 L704.6 492.3 L727.5 497.9 L728.2 503.6 L686.1 509.2 L719.2 514.9 L678.5 520.6 L661.9 526.2 L719.9 537.5 L702.0 543.2 L693.8 548.8 L719.2 554.5 L677.0 565.8 L672.9 571.5 L712.4 577.1 L721.3 582.8 L678.0 588.4 L685.0 594.1 L720.7 599.8 L676.8 605.4 L732.2 611.1 L686.3 616.7 L693.9 622.4 L712.4 628.0 L716.0 633.7 L692.0 639.4 L687.2 645.0 L751.7 662.0 L744.0 667.6 L749.4 673.3 L722.2 684.6 L755.0 690.3 L720.3 695.9 L750.4 701.6 L764.4 707.2 L743.3 712.9 L749.3 718.6" stroke="#C0504D" stroke-width="2" fill="none" stroke-linejoin="round" stroke-linecap="round"/>
<path d="M113.80 538.50 C113.33 540.28 112.50 545.62 111.00 549.20 C109.50 552.78 106.72 557.03 104.80 560.00 C102.88 562.97 101.03 564.58 99.50 567.00 C97.97 569.42 96.63 572.33 95.60 574.50 C94.57 576.67 93.78 578.25 93.30 580.00 C92.82 581.75 92.70 583.07 92.70 585.00 C92.70 586.93 92.83 589.77 93.30 591.60 C93.77 593.43 94.58 594.47 95.50 596.00 C96.42 597.53 97.55 599.38 98.80 600.80 C100.05 602.22 101.47 603.32 103.00 604.50 C104.53 605.68 105.33 606.40 108.00 607.90 C110.67 609.40 115.27 611.72 119.00 613.50 C122.73 615.28 128.50 617.75 130.40 618.60" stroke="#666" stroke-width="0.75" fill="none"/>
<path d="M286.70 551.90 C286.25 553.75 284.77 559.05 284.00 563.00 C283.23 566.95 282.42 570.95 282.10 575.60 C281.78 580.25 281.90 586.05 282.10 590.90 C282.30 595.75 282.78 600.88 283.30 604.70 C283.82 608.52 284.33 610.25 285.20 613.80 C286.07 617.35 287.27 621.80 288.50 626.00 C289.73 630.20 290.67 633.38 292.60 639.00 C294.53 644.62 298.20 654.53 300.10 659.70 C302.00 664.87 301.70 664.95 304.00 670.00 C306.30 675.05 311.80 685.68 313.90 690.00 C316.00 694.32 314.63 691.42 316.60 695.90 C318.57 700.38 322.43 709.20 325.70 716.90 C328.97 724.60 334.45 737.90 336.20 742.10" stroke="#666" stroke-width="0.75" fill="none"/>
<path d="M489.70 370.40 C490.85 373.13 494.68 380.88 496.60 386.80 C498.52 392.72 500.15 400.20 501.20 405.90 C502.25 411.60 502.53 415.98 502.90 421.00 C503.27 426.02 503.38 431.00 503.40 436.00 C503.42 441.00 503.20 446.57 503.00 451.00 C502.80 455.43 502.62 458.60 502.20 462.60 C501.78 466.60 501.08 471.10 500.50 475.00 C499.92 478.90 499.43 481.45 498.70 486.00 C497.97 490.55 497.02 497.40 496.10 502.30 C495.18 507.20 494.22 510.28 493.20 515.40 C492.18 520.52 491.03 527.22 490.00 533.00 C488.97 538.78 488.08 544.18 487.00 550.10 C485.92 556.02 484.37 563.80 483.50 568.50 C482.63 573.20 482.25 573.78 481.80 578.30 C481.35 582.82 480.97 590.17 480.80 595.60 C480.63 601.03 480.63 606.13 480.80 610.90 C480.97 615.67 481.35 619.35 481.80 624.20 C482.25 629.05 482.80 635.37 483.50 640.00 C484.20 644.63 485.07 648.05 486.00 652.00 C486.93 655.95 487.40 659.20 489.10 663.70 C490.80 668.20 494.00 674.42 496.20 679.00 C498.40 683.58 499.90 687.30 502.30 691.20 C504.70 695.10 508.15 699.10 510.60 702.40 C513.05 705.70 514.80 707.93 517.00 711.00 C519.20 714.07 520.97 717.38 523.80 720.80 C526.63 724.22 530.43 727.93 534.00 731.50 C537.57 735.07 543.33 740.42 545.20 742.20" stroke="#666" stroke-width="0.75" fill="none"/>
<path d="M670.10 107.60 C670.42 110.58 671.25 119.77 672.00 125.50 C672.75 131.23 673.85 136.70 674.60 142.00 C675.35 147.30 675.87 151.13 676.50 157.30 C677.13 163.47 677.77 172.63 678.40 179.00 C679.03 185.37 679.45 183.83 680.30 195.50 C681.15 207.17 682.65 230.75 683.50 249.00 C684.35 267.25 684.65 283.33 685.40 305.00 C686.15 326.67 687.35 359.83 688.00 379.00 C688.65 398.17 688.78 408.33 689.30 420.00 C689.82 431.67 690.47 440.50 691.10 449.00 C691.73 457.50 692.45 462.67 693.10 471.00 C693.75 479.33 694.15 491.58 695.00 499.00 C695.85 506.42 697.13 508.08 698.20 515.50 C699.27 522.92 700.33 534.58 701.40 543.50 C702.47 552.42 703.72 562.00 704.60 569.00 C705.48 576.00 705.62 578.93 706.70 585.50 C707.78 592.07 709.93 602.47 711.10 608.40 C712.27 614.33 712.42 616.00 713.70 621.10 C714.98 626.20 717.58 634.75 718.80 639.00 C720.02 643.25 719.15 640.67 721.00 646.60 C722.85 652.53 727.37 666.33 729.90 674.60 C732.43 682.87 734.40 690.47 736.20 696.20 C738.00 701.93 739.32 705.35 740.70 709.00 C742.08 712.65 743.87 716.58 744.50 718.10" stroke="#666" stroke-width="0.75" fill="none"/>
<line x1="76.70" y1="107.3" x2="76.70" y2="745.5" stroke="#9a9a9a" stroke-width="1.8" stroke-dasharray="4.7 2.49"/>
<line x1="130.90" y1="107.3" x2="130.90" y2="745.5" stroke="#9a9a9a" stroke-width="1.8" stroke-dasharray="4.7 2.49"/>
<line x1="272.56" y1="107.3" x2="272.56" y2="745.5" stroke="#454545" stroke-width="1.8" stroke-dasharray="4.7 2.49"/>
<line x1="326.82" y1="107.3" x2="326.82" y2="745.5" stroke="#454545" stroke-width="1.8" stroke-dasharray="4.7 2.49"/>
<line x1="468.74" y1="107.3" x2="468.74" y2="745.5" stroke="#454545" stroke-width="1.8" stroke-dasharray="4.7 2.49"/>
<line x1="522.88" y1="107.3" x2="522.88" y2="745.5" stroke="#454545" stroke-width="1.8" stroke-dasharray="4.7 2.49"/>
<line x1="666.90" y1="107.3" x2="666.90" y2="745.5" stroke="#454545" stroke-width="1.8" stroke-dasharray="4.7 2.49"/>
<line x1="721.30" y1="107.3" x2="721.30" y2="745.5" stroke="#454545" stroke-width="1.8" stroke-dasharray="4.7 2.49"/>
<g font-family="'Liberation Serif', serif"><text transform="translate(175.94 570.60) rotate(90) scale(1 0.756)" text-anchor="middle" font-size="11.45" fill="#333">y = 0.0043x³ -</text><text transform="translate(166.44 570.90) rotate(90) scale(1 0.756)" text-anchor="middle" font-size="11.45" fill="#333">0.0621x² +</text><text transform="translate(157.04 570.50) rotate(90) scale(1 0.756)" text-anchor="middle" font-size="11.45" fill="#333">0.1336x + 0.2431</text><text transform="translate(147.64 571.30) rotate(90) scale(1 0.756)" text-anchor="middle" font-size="11.45" fill="#333">R² = 0.1631</text><text transform="translate(236.84 636.20) rotate(90) scale(1 0.756)" text-anchor="middle" font-size="11.45" fill="#333">y = -9E-05x³ - 0.0068x² - 0.0797x - 0.446</text><text transform="translate(227.24 635.80) rotate(90) scale(1 0.756)" text-anchor="middle" font-size="11.45" fill="#333">R² = 0.4524</text><text transform="translate(426.84 639.60) rotate(90) scale(1 0.756)" text-anchor="middle" font-size="11.45" fill="#333">y = 7E-05x³ - 0.0055x² + 0.1072x - 0.3539</text><text transform="translate(417.54 639.60) rotate(90) scale(1 0.756)" text-anchor="middle" font-size="11.45" fill="#333">R² = 0.2726</text><text transform="translate(633.34 610.50) rotate(90) scale(1 0.78)" text-anchor="middle" font-size="11.1" fill="#333">y = 5E-06x³ - 0.0006x² + 0.0329x - 0.9665</text><text transform="translate(623.84 613.60) rotate(90) scale(1 0.756)" text-anchor="middle" font-size="11.45" fill="#333">R² = 0.4371</text></g>
<line x1="0.3" y1="549.9" x2="783" y2="549.9" stroke="#000" stroke-width="1.9" stroke-dasharray="2.007 2.007"/>
<line x1="0.3" y1="619.2" x2="783" y2="619.2" stroke="#000" stroke-width="1.9" stroke-dasharray="2.007 2.007"/>
<path d="M0 36 H784" stroke="#000" stroke-width="1"/>
<path d="M0 72.5 H784" stroke="#111" stroke-width="1"/>
<path d="M1 73.5 H783" stroke="#bbb" stroke-width="1"/>
<path d="M0 751.5 H784" stroke="#6e6e6e" stroke-width="1"/>
<path d="M0 752.5 H784" stroke="#454545" stroke-width="1"/>
<path d="M192.5 36.5 V783 M388.5 36.5 V783" stroke="#808080" stroke-width="1"/>
<path d="M193.5 36.5 V783 M389.5 36.5 V783" stroke="#000" stroke-width="1"/>
<path d="M585 36.5 V783" stroke="#000" stroke-width="1"/>
<path d="M0 0.5 H785 M0.5 0 V784 M0 783.5 H784 M783.5 0 V784" stroke="#000" stroke-width="1" fill="none"/>
<path d="M784.5 1 V784" stroke="#8a8a8a" stroke-width="1" fill="none"/>
<text x="390" y="22.5" text-anchor="middle" font-family="'Liberation Serif', serif" font-weight="bold" font-size="16.3">ANNUAL TEMPERATURE ANOMALY (°C/month) WITH POLYNOMIAL TRENDLINE ANALYSIS</text>
<text x="97" y="57.2" text-anchor="middle" font-family="'Liberation Serif', serif" font-size="14.9">Temperature Anomaly (°C)</text>
<text x="97" y="774.2" text-anchor="middle" font-family="'Liberation Serif', serif" font-size="15.5" letter-spacing="0.25">IMDST</text>
<text x="291.5" y="57.2" text-anchor="middle" font-family="'Liberation Serif', serif" font-size="14.9">Temperature Anomaly (°C)</text>
<text x="291.5" y="774.2" text-anchor="middle" font-family="'Liberation Serif', serif" font-size="15.5" letter-spacing="0.25">ERA</text>
<text x="487" y="57.2" text-anchor="middle" font-family="'Liberation Serif', serif" font-size="14.9">Temperature Anomaly (°C)</text>
<text x="487" y="774.2" text-anchor="middle" font-family="'Liberation Serif', serif" font-size="15.5" letter-spacing="0.25">NNRP</text>
<text x="684.3" y="57.2" text-anchor="middle" font-family="'Liberation Serif', serif" font-size="14.9">Temperature Anomaly (°C)</text>
<text x="684.3" y="774.2" text-anchor="middle" font-family="'Liberation Serif', serif" font-size="15.5" letter-spacing="0.25">CRU</text>
</svg></body></html>
